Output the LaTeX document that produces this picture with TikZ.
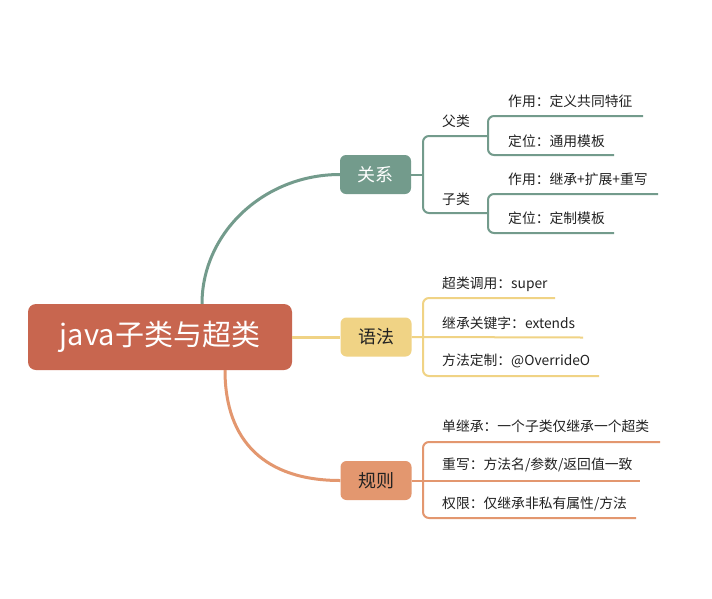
\documentclass[tikz,border=0pt]{standalone}
\usepackage{fontspec}
\setmainfont{Noto Sans CJK SC}
\usetikzlibrary{calc}
\definecolor{rootc}{HTML}{C8664F}
\definecolor{tealc}{HTML}{739B8C}
\definecolor{yellc}{HTML}{F0D385}
\definecolor{orgc}{HTML}{E3976F}
\definecolor{txtc}{HTML}{222222}
\tikzset{
  rootbox/.style={fill=rootc, rounded corners=8pt, minimum width=264pt, minimum height=66pt, text=white, font=\fontsize{29}{32}\selectfont, inner sep=0pt},
  mainbox/.style={rounded corners=6pt, minimum width=71pt, minimum height=39pt, font=\fontsize{18}{20}\selectfont, inner sep=0pt},
  leaf/.style={anchor=west, inner sep=0pt, text=txtc, font=\fontsize{13.8}{15}\selectfont},
  mainline/.style={line width=3pt},
  brline/.style={line width=2pt, rounded corners=6pt},
}
\begin{document}
\begin{tikzpicture}[x=1pt,y=-1pt]
\useasboundingbox[fill=white] (0,0) rectangle (712,598);

% main nodes
\node[rootbox] (root) at (160,337) {java子类与超类};
\node[mainbox, fill=tealc, text=white] (rel) at (375.5,174.5) {关系};
\node[mainbox, fill=yellc, text=txtc] (syn) at (376,337) {语法};
\node[mainbox, fill=orgc, text=txtc] (rule) at (376,480.5) {规则};

% main connectors
\draw[mainline, tealc] ($(root.north)+(42,0)$) .. controls ($(root.north)+(42,-71)$) and (264,174.5) .. (rel.west);
\draw[mainline, yellc] (root.east) -- (syn.west);
\draw[mainline, orgc] ($(root.south)+(65,0)$) .. controls ($(root.south)+(65,71)$) and (265,480.5) .. (rule.west);

% ---------- 关系 ----------
\node[leaf] (fu) at (442,121) {父类};
\node[leaf] (zi) at (442,199) {子类};
\node[leaf] (fu1) at (508,101) {作用：定义共同特征};
\node[leaf] (fu2) at (508,141) {定位：通用模板};
\node[leaf] (zi1) at (508,179) {作用：继承+扩展+重写};
\node[leaf] (zi2) at (508,218) {定位：定制模板};
\coordinate (relj) at (423,174.5);
\coordinate (fuE) at (488,136);
\coordinate (ziE) at (488,213);
\coordinate (fu1E) at (643,116);
\coordinate (fu2E) at (614,155);
\coordinate (zi1E) at (658,194);
\coordinate (zi2E) at (614,233);
\begin{scope}[tealc]
\draw[line width=2pt] (rel.east) -- (relj);
\draw[brline] (fuE) -- (fuE -| relj) -- (ziE -| relj) -- (ziE);
\draw[brline] (fu1E) -- (fu1E -| fuE) -- (fu2E -| fuE) -- (fu2E);
\draw[brline] (zi1E) -- (zi1E -| ziE) -- (zi2E -| ziE) -- (zi2E);
\end{scope}

% ---------- 语法 ----------
\node[leaf] (s1) at (442,284) {超类调用：super};
\node[leaf] (s2) at (442,323) {继承关键字：extends};
\node[leaf] (s3) at (442,361) {方法定制：@OverrideO};
\coordinate (synj) at (423,337);
\coordinate (s1E) at (555,298);
\coordinate (s2E) at (583,337.5);
\coordinate (s3E) at (599,376);
\begin{scope}[yellc]
\draw[line width=2pt] (syn.east) -- (s2E);
\draw[brline] (s1E) -- (s1E -| synj) -- (s3E -| synj) -- (s3E);
\end{scope}

% ---------- 规则 ----------
\node[leaf] (r1) at (442,426) {单继承：一个子类仅继承一个超类};
\node[leaf] (r2) at (442,465) {重写：方法名/参数/返回值一致};
\node[leaf] (r3) at (442,504) {权限：仅继承非私有属性/方法};
\coordinate (rulej) at (423,480.5);
\coordinate (r1E) at (660,442);
\coordinate (r2E) at (640,480.5);
\coordinate (r3E) at (636,518);
\begin{scope}[orgc]
\draw[line width=2pt] (rule.east) -- (r2E);
\draw[brline] (r1E) -- (r1E -| rulej) -- (r3E -| rulej) -- (r3E);
\end{scope}
\end{tikzpicture}
\end{document}
